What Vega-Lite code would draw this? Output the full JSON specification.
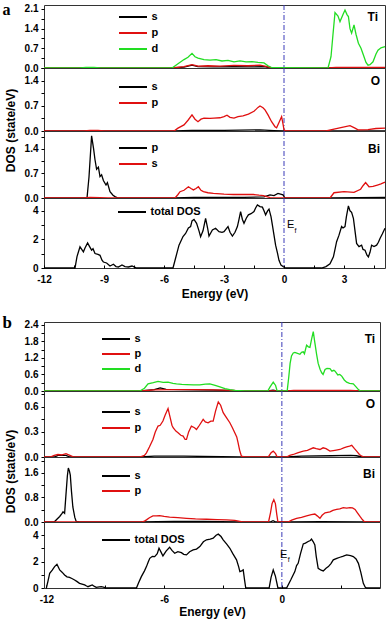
{
"$schema": "https://vega.github.io/schema/vega-lite/v6.json",
"autosize": {"type": "none"},
"padding": {"left": 44, "top": 5, "right": 344, "bottom": 617},
"background": "white",
"config": {
  "view": {"stroke": "#333", "strokeWidth": 1},
  "axis": {"domain": false, "grid": false, "tickColor": "#000", "tickWidth": 1, "tickSize": 3, "labelFont": "Liberation Sans", "labelFontWeight": "bold", "labelFontSize": 10, "labelColor": "#000", "labelOverlap": false, "labelFlush": false, "labelPadding": 3, "titleFont": "Liberation Sans", "titleFontWeight": "bold", "titleFontSize": 12, "titleColor": "#000"},
  "axisX": {"tickSize": -3, "labelPadding": 9},
  "legend": {"orient": "none", "direction": "vertical", "symbolType": "M-4,0H4", "symbolSize": 49, "symbolStrokeWidth": 2, "labelOffset": 13, "labelFontSize": 11, "labelFont": "Liberation Sans", "labelFontWeight": "bold", "labelColor": "#000", "padding": 0},
  "text": {"font": "Liberation Sans", "fontWeight": "bold", "fontSize": 12, "color": "#000"}
},
"datasets": {
"aTi": [
{"o":"s","e":-12,"v":0},{"o":"s","e":-5.6,"v":0},{"o":"s","e":-5.0,"v":0.03},{"o":"s","e":-4.6,"v":0.1},{"o":"s","e":-4.3,"v":0.05},{"o":"s","e":-3.5,"v":0.04},{"o":"s","e":-2.5,"v":0.05},{"o":"s","e":-1.5,"v":0.04},{"o":"s","e":-1.0,"v":0.05},{"o":"s","e":-0.6,"v":0},{"o":"s","e":5.05,"v":0},
{"o":"p","e":-12,"v":0},{"o":"p","e":-5.6,"v":0},{"o":"p","e":-5.0,"v":0.05},{"o":"p","e":-4.6,"v":0.12},{"o":"p","e":-4.3,"v":0.07},{"o":"p","e":-3.8,"v":0.08},{"o":"p","e":-3.2,"v":0.07},{"o":"p","e":-2.5,"v":0.09},{"o":"p","e":-1.8,"v":0.08},{"o":"p","e":-1.2,"v":0.1},{"o":"p","e":-0.9,"v":0.06},{"o":"p","e":-0.6,"v":0},{"o":"p","e":2.2,"v":0},{"o":"p","e":2.6,"v":0.02},{"o":"p","e":5.05,"v":0.02},
{"o":"d","e":-12,"v":0},{"o":"d","e":-10.2,"v":0},{"o":"d","e":-9.9,"v":0.02},{"o":"d","e":-9.5,"v":0.02},{"o":"d","e":-9.2,"v":0},{"o":"d","e":-5.6,"v":0},{"o":"d","e":-5.3,"v":0.15},{"o":"d","e":-5.0,"v":0.3},{"o":"d","e":-4.8,"v":0.38},{"o":"d","e":-4.6,"v":0.52},{"o":"d","e":-4.45,"v":0.4},{"o":"d","e":-4.3,"v":0.35},{"o":"d","e":-4.0,"v":0.3},{"o":"d","e":-3.7,"v":0.28},{"o":"d","e":-3.4,"v":0.3},{"o":"d","e":-3.1,"v":0.25},{"o":"d","e":-2.8,"v":0.27},{"o":"d","e":-2.5,"v":0.22},{"o":"d","e":-2.2,"v":0.25},{"o":"d","e":-1.9,"v":0.22},{"o":"d","e":-1.6,"v":0.23},{"o":"d","e":-1.3,"v":0.2},{"o":"d","e":-1.0,"v":0.18},{"o":"d","e":-0.8,"v":0.08},{"o":"d","e":-0.6,"v":0.01},{"o":"d","e":2.2,"v":0},{"o":"d","e":2.35,"v":0.4},{"o":"d","e":2.45,"v":1.2},{"o":"d","e":2.55,"v":1.97},{"o":"d","e":2.7,"v":1.85},{"o":"d","e":2.8,"v":1.65},{"o":"d","e":2.95,"v":1.9},{"o":"d","e":3.05,"v":2.06},{"o":"d","e":3.15,"v":1.9},{"o":"d","e":3.22,"v":1.83},{"o":"d","e":3.3,"v":1.4},{"o":"d","e":3.38,"v":1.24},{"o":"d","e":3.5,"v":1.53},{"o":"d","e":3.6,"v":1.2},{"o":"d","e":3.72,"v":0.88},{"o":"d","e":3.85,"v":0.7},{"o":"d","e":3.97,"v":0.46},{"o":"d","e":4.1,"v":0.2},{"o":"d","e":4.2,"v":0.1},{"o":"d","e":4.3,"v":0.12},{"o":"d","e":4.45,"v":0.22},{"o":"d","e":4.6,"v":0.5},{"o":"d","e":4.7,"v":0.63},{"o":"d","e":4.85,"v":0.72},{"o":"d","e":5.05,"v":0.76}
],
"aO": [
{"o":"s","e":-12,"v":0},{"o":"s","e":-5.5,"v":0},{"o":"s","e":-4.6,"v":0.02},{"o":"s","e":-3,"v":0.02},{"o":"s","e":-1.2,"v":0.03},{"o":"s","e":-0.5,"v":0.01},{"o":"s","e":0,"v":0},{"o":"s","e":5.05,"v":0},
{"o":"p","e":-12,"v":0},{"o":"p","e":-10.0,"v":0},{"o":"p","e":-9.7,"v":0.02},{"o":"p","e":-9.3,"v":0.02},{"o":"p","e":-9.0,"v":0},{"o":"p","e":-5.5,"v":0},{"o":"p","e":-5.3,"v":0.08},{"o":"p","e":-5.0,"v":0.17},{"o":"p","e":-4.8,"v":0.3},{"o":"p","e":-4.6,"v":0.45},{"o":"p","e":-4.45,"v":0.33},{"o":"p","e":-4.3,"v":0.26},{"o":"p","e":-4.15,"v":0.33},{"o":"p","e":-4.0,"v":0.36},{"o":"p","e":-3.7,"v":0.35},{"o":"p","e":-3.5,"v":0.36},{"o":"p","e":-3.2,"v":0.37},{"o":"p","e":-3.0,"v":0.4},{"o":"p","e":-2.85,"v":0.44},{"o":"p","e":-2.7,"v":0.38},{"o":"p","e":-2.5,"v":0.36},{"o":"p","e":-2.3,"v":0.4},{"o":"p","e":-2.05,"v":0.42},{"o":"p","e":-1.78,"v":0.47},{"o":"p","e":-1.5,"v":0.55},{"o":"p","e":-1.3,"v":0.66},{"o":"p","e":-1.2,"v":0.7},{"o":"p","e":-1.05,"v":0.65},{"o":"p","e":-0.95,"v":0.59},{"o":"p","e":-0.8,"v":0.45},{"o":"p","e":-0.62,"v":0.26},{"o":"p","e":-0.45,"v":0.12},{"o":"p","e":-0.37,"v":0.09},{"o":"p","e":-0.2,"v":0.3},{"o":"p","e":-0.12,"v":0.4},{"o":"p","e":-0.05,"v":0.2},{"o":"p","e":0,"v":0.03},{"o":"p","e":0.1,"v":0},{"o":"p","e":2.1,"v":0},{"o":"p","e":2.5,"v":0.05},{"o":"p","e":2.9,"v":0.1},{"o":"p","e":3.3,"v":0.15},{"o":"p","e":3.55,"v":0.08},{"o":"p","e":3.7,"v":0.03},{"o":"p","e":4.2,"v":0.04},{"o":"p","e":4.6,"v":0.07},{"o":"p","e":5.05,"v":0.08}
],
"aBi": [
{"o":"p","e":-12,"v":0},{"o":"p","e":-9.85,"v":0},{"o":"p","e":-9.75,"v":0.6},{"o":"p","e":-9.62,"v":1.77},{"o":"p","e":-9.52,"v":1.4},{"o":"p","e":-9.45,"v":1.09},{"o":"p","e":-9.37,"v":0.82},{"o":"p","e":-9.28,"v":0.88},{"o":"p","e":-9.2,"v":0.61},{"o":"p","e":-9.12,"v":0.66},{"o":"p","e":-9.03,"v":0.5},{"o":"p","e":-8.9,"v":0.37},{"o":"p","e":-8.83,"v":0.44},{"o":"p","e":-8.7,"v":0.18},{"o":"p","e":-8.55,"v":0.08},{"o":"p","e":-8.45,"v":0.04},{"o":"p","e":-8.3,"v":0},{"o":"p","e":-5.5,"v":0},{"o":"p","e":-4.5,"v":0.02},{"o":"p","e":-2,"v":0.02},{"o":"p","e":-1.0,"v":0.03},{"o":"p","e":-0.7,"v":0.09},{"o":"p","e":-0.5,"v":0.07},{"o":"p","e":-0.3,"v":0.13},{"o":"p","e":-0.05,"v":0.09},{"o":"p","e":0.05,"v":0},{"o":"p","e":2.3,"v":0},{"o":"p","e":5.05,"v":0.02},
{"o":"s","e":-12,"v":0},{"o":"s","e":-10,"v":0},{"o":"s","e":-9.7,"v":0.02},{"o":"s","e":-9.2,"v":0.01},{"o":"s","e":-8.8,"v":0},{"o":"s","e":-5.45,"v":0},{"o":"s","e":-5.3,"v":0.1},{"o":"s","e":-5.2,"v":0.18},{"o":"s","e":-5.0,"v":0.22},{"o":"s","e":-4.78,"v":0.32},{"o":"s","e":-4.65,"v":0.27},{"o":"s","e":-4.53,"v":0.23},{"o":"s","e":-4.4,"v":0.27},{"o":"s","e":-4.28,"v":0.32},{"o":"s","e":-4.15,"v":0.22},{"o":"s","e":-4.03,"v":0.18},{"o":"s","e":-3.8,"v":0.15},{"o":"s","e":-3.53,"v":0.13},{"o":"s","e":-3.0,"v":0.11},{"o":"s","e":-2.53,"v":0.1},{"o":"s","e":-2.0,"v":0.1},{"o":"s","e":-1.53,"v":0.1},{"o":"s","e":-1.25,"v":0.08},{"o":"s","e":-1.03,"v":0.07},{"o":"s","e":-0.7,"v":0.01},{"o":"s","e":2.3,"v":0},{"o":"s","e":2.5,"v":0.15},{"o":"s","e":3.0,"v":0.18},{"o":"s","e":3.5,"v":0.16},{"o":"s","e":3.83,"v":0.25},{"o":"s","e":3.95,"v":0.35},{"o":"s","e":4.08,"v":0.44},{"o":"s","e":4.25,"v":0.32},{"o":"s","e":4.45,"v":0.33},{"o":"s","e":4.67,"v":0.37},{"o":"s","e":4.85,"v":0.4},{"o":"s","e":5.05,"v":0.45}
],
"aTot": [
{"o":"total DOS","e":-12,"v":0},{"o":"total DOS","e":-10.45,"v":0},{"o":"total DOS","e":-10.35,"v":0.8},{"o":"total DOS","e":-10.2,"v":1.48},{"o":"total DOS","e":-10.03,"v":1.13},{"o":"total DOS","e":-9.95,"v":1.4},{"o":"total DOS","e":-9.82,"v":1.76},{"o":"total DOS","e":-9.72,"v":1.5},{"o":"total DOS","e":-9.62,"v":1.25},{"o":"total DOS","e":-9.55,"v":1.35},{"o":"total DOS","e":-9.45,"v":1.01},{"o":"total DOS","e":-9.3,"v":0.95},{"o":"total DOS","e":-9.2,"v":0.89},{"o":"total DOS","e":-9.1,"v":0.55},{"o":"total DOS","e":-9.03,"v":0.42},{"o":"total DOS","e":-8.87,"v":0.35},{"o":"total DOS","e":-8.7,"v":0.14},{"o":"total DOS","e":-8.53,"v":0.26},{"o":"total DOS","e":-8.4,"v":0.1},{"o":"total DOS","e":-8.28,"v":0.07},{"o":"total DOS","e":-8.1,"v":0.21},{"o":"total DOS","e":-7.95,"v":0.1},{"o":"total DOS","e":-7.78,"v":0.07},{"o":"total DOS","e":-7.6,"v":0.14},{"o":"total DOS","e":-7.45,"v":0.05},{"o":"total DOS","e":-7.37,"v":0},{"o":"total DOS","e":-5.55,"v":0},{"o":"total DOS","e":-5.25,"v":1.6},{"o":"total DOS","e":-5.05,"v":2.2},{"o":"total DOS","e":-4.92,"v":2.42},{"o":"total DOS","e":-4.78,"v":2.8},{"o":"total DOS","e":-4.67,"v":2.9},{"o":"total DOS","e":-4.6,"v":3.3},{"o":"total DOS","e":-4.5,"v":3.4},{"o":"total DOS","e":-4.37,"v":3.13},{"o":"total DOS","e":-4.25,"v":2.6},{"o":"total DOS","e":-4.17,"v":2.19},{"o":"total DOS","e":-4.05,"v":2.6},{"o":"total DOS","e":-3.92,"v":3.48},{"o":"total DOS","e":-3.82,"v":2.8},{"o":"total DOS","e":-3.75,"v":2.24},{"o":"total DOS","e":-3.58,"v":2.66},{"o":"total DOS","e":-3.42,"v":2.78},{"o":"total DOS","e":-3.25,"v":2.54},{"o":"total DOS","e":-3.1,"v":2.5},{"o":"total DOS","e":-3.0,"v":2.54},{"o":"total DOS","e":-2.8,"v":2.9},{"o":"total DOS","e":-2.7,"v":2.5},{"o":"total DOS","e":-2.58,"v":2.24},{"o":"total DOS","e":-2.45,"v":2.5},{"o":"total DOS","e":-2.33,"v":2.9},{"o":"total DOS","e":-2.25,"v":3.4},{"o":"total DOS","e":-2.17,"v":3.95},{"o":"total DOS","e":-2.08,"v":3.4},{"o":"total DOS","e":-2.0,"v":3.13},{"o":"total DOS","e":-1.88,"v":3.5},{"o":"total DOS","e":-1.78,"v":3.72},{"o":"total DOS","e":-1.65,"v":3.8},{"o":"total DOS","e":-1.5,"v":3.95},{"o":"total DOS","e":-1.42,"v":4.2},{"o":"total DOS","e":-1.33,"v":4.42},{"o":"total DOS","e":-1.2,"v":4.3},{"o":"total DOS","e":-1.08,"v":4.26},{"o":"total DOS","e":-1.0,"v":4.0},{"o":"total DOS","e":-0.92,"v":3.72},{"o":"total DOS","e":-0.82,"v":4.0},{"o":"total DOS","e":-0.75,"v":4.12},{"o":"total DOS","e":-0.65,"v":3.6},{"o":"total DOS","e":-0.58,"v":3.0},{"o":"total DOS","e":-0.5,"v":2.3},{"o":"total DOS","e":-0.42,"v":1.6},{"o":"total DOS","e":-0.32,"v":1.0},{"o":"total DOS","e":-0.25,"v":0.54},{"o":"total DOS","e":-0.15,"v":0.2},{"o":"total DOS","e":0,"v":0.05},{"o":"total DOS","e":0.1,"v":0},{"o":"total DOS","e":1.88,"v":0},{"o":"total DOS","e":2.1,"v":0.1},{"o":"total DOS","e":2.3,"v":0.3},{"o":"total DOS","e":2.47,"v":0.78},{"o":"total DOS","e":2.55,"v":1.3},{"o":"total DOS","e":2.63,"v":1.84},{"o":"total DOS","e":2.75,"v":2.3},{"o":"total DOS","e":2.88,"v":2.9},{"o":"total DOS","e":2.95,"v":2.8},{"o":"total DOS","e":3.05,"v":2.9},{"o":"total DOS","e":3.12,"v":3.6},{"o":"total DOS","e":3.22,"v":4.35},{"o":"total DOS","e":3.3,"v":4.0},{"o":"total DOS","e":3.38,"v":3.9},{"o":"total DOS","e":3.47,"v":3.48},{"o":"total DOS","e":3.55,"v":2.6},{"o":"total DOS","e":3.63,"v":1.72},{"o":"total DOS","e":3.75,"v":1.5},{"o":"total DOS","e":3.88,"v":1.6},{"o":"total DOS","e":3.95,"v":1.3},{"o":"total DOS","e":4.05,"v":1.25},{"o":"total DOS","e":4.15,"v":0.9},{"o":"total DOS","e":4.22,"v":0.78},{"o":"total DOS","e":4.3,"v":1.1},{"o":"total DOS","e":4.38,"v":1.6},{"o":"total DOS","e":4.5,"v":1.5},{"o":"total DOS","e":4.63,"v":1.6},{"o":"total DOS","e":4.72,"v":1.8},{"o":"total DOS","e":4.8,"v":2.07},{"o":"total DOS","e":4.92,"v":2.4},{"o":"total DOS","e":5.05,"v":2.78}
],
"bTi": [
{"o":"s","e":-12.12,"v":0},{"o":"s","e":-7.2,"v":0},{"o":"s","e":-6.5,"v":0.05},{"o":"s","e":-6.2,"v":0.11},{"o":"s","e":-5.9,"v":0.06},{"o":"s","e":-5.3,"v":0.05},{"o":"s","e":-4.5,"v":0.04},{"o":"s","e":-3.5,"v":0.03},{"o":"s","e":-2.3,"v":0.01},{"o":"s","e":-2.1,"v":0},{"o":"s","e":-0.7,"v":0},{"o":"s","e":-0.45,"v":0.03},{"o":"s","e":-0.25,"v":0},{"o":"s","e":0.3,"v":0},{"o":"s","e":1.5,"v":0.01},{"o":"s","e":3.5,"v":0.01},{"o":"s","e":4.0,"v":0},{"o":"s","e":5.0,"v":0},
{"o":"p","e":-12.12,"v":0},{"o":"p","e":-7.2,"v":0},{"o":"p","e":-6.5,"v":0.04},{"o":"p","e":-5.5,"v":0.05},{"o":"p","e":-4.5,"v":0.05},{"o":"p","e":-3.5,"v":0.04},{"o":"p","e":-2.5,"v":0.02},{"o":"p","e":-2.1,"v":0},{"o":"p","e":0.3,"v":0},{"o":"p","e":0.6,"v":0.02},{"o":"p","e":3.5,"v":0.02},{"o":"p","e":4.0,"v":0},{"o":"p","e":5.0,"v":0},
{"o":"d","e":-12.12,"v":0},{"o":"d","e":-7.24,"v":0},{"o":"d","e":-7.0,"v":0.1},{"o":"d","e":-6.82,"v":0.26},{"o":"d","e":-6.55,"v":0.3},{"o":"d","e":-6.31,"v":0.35},{"o":"d","e":-6.05,"v":0.31},{"o":"d","e":-5.8,"v":0.32},{"o":"d","e":-5.55,"v":0.28},{"o":"d","e":-5.37,"v":0.26},{"o":"d","e":-5.1,"v":0.24},{"o":"d","e":-4.86,"v":0.23},{"o":"d","e":-4.5,"v":0.22},{"o":"d","e":-4.18,"v":0.22},{"o":"d","e":-3.9,"v":0.25},{"o":"d","e":-3.67,"v":0.26},{"o":"d","e":-3.4,"v":0.2},{"o":"d","e":-3.16,"v":0.15},{"o":"d","e":-2.9,"v":0.09},{"o":"d","e":-2.65,"v":0.05},{"o":"d","e":-2.4,"v":0.02},{"o":"d","e":-2.14,"v":0.01},{"o":"d","e":-1.9,"v":0},{"o":"d","e":-0.72,"v":0},{"o":"d","e":-0.6,"v":0.15},{"o":"d","e":-0.44,"v":0.32},{"o":"d","e":-0.32,"v":0.2},{"o":"d","e":-0.24,"v":0},{"o":"d","e":0.27,"v":0},{"o":"d","e":0.35,"v":0.5},{"o":"d","e":0.42,"v":1.0},{"o":"d","e":0.49,"v":1.27},{"o":"d","e":0.58,"v":1.38},{"o":"d","e":0.66,"v":1.4},{"o":"d","e":0.8,"v":1.36},{"o":"d","e":0.92,"v":1.33},{"o":"d","e":1.0,"v":1.4},{"o":"d","e":1.09,"v":1.42},{"o":"d","e":1.15,"v":1.35},{"o":"d","e":1.26,"v":1.66},{"o":"d","e":1.35,"v":1.6},{"o":"d","e":1.43,"v":1.58},{"o":"d","e":1.52,"v":1.9},{"o":"d","e":1.6,"v":2.15},{"o":"d","e":1.68,"v":1.75},{"o":"d","e":1.77,"v":1.33},{"o":"d","e":1.85,"v":1.0},{"o":"d","e":1.95,"v":0.78},{"o":"d","e":2.03,"v":0.66},{"o":"d","e":2.1,"v":0.6},{"o":"d","e":2.2,"v":0.78},{"o":"d","e":2.3,"v":0.82},{"o":"d","e":2.45,"v":0.81},{"o":"d","e":2.55,"v":0.72},{"o":"d","e":2.65,"v":0.75},{"o":"d","e":2.71,"v":0.72},{"o":"d","e":2.85,"v":0.58},{"o":"d","e":2.95,"v":0.6},{"o":"d","e":3.05,"v":0.54},{"o":"d","e":3.18,"v":0.4},{"o":"d","e":3.3,"v":0.32},{"o":"d","e":3.45,"v":0.28},{"o":"d","e":3.64,"v":0.26},{"o":"d","e":3.78,"v":0.15},{"o":"d","e":3.9,"v":0.05},{"o":"d","e":4.0,"v":0},{"o":"d","e":5.0,"v":0}
],
"bO": [
{"o":"s","e":-12.12,"v":0},{"o":"s","e":-11.6,"v":0},{"o":"s","e":-11.4,"v":0.02},{"o":"s","e":-11.0,"v":0.02},{"o":"s","e":-10.8,"v":0},{"o":"s","e":-7.2,"v":0},{"o":"s","e":-6.5,"v":0.01},{"o":"s","e":-5.0,"v":0.01},{"o":"s","e":-2.1,"v":0},{"o":"s","e":0.25,"v":0},{"o":"s","e":1.0,"v":0.01},{"o":"s","e":2.5,"v":0.015},{"o":"s","e":3.5,"v":0.02},{"o":"s","e":3.8,"v":0.015},{"o":"s","e":4.1,"v":0},{"o":"s","e":5.0,"v":0},
{"o":"p","e":-12.12,"v":0},{"o":"p","e":-11.8,"v":0},{"o":"p","e":-11.6,"v":0.02},{"o":"p","e":-11.41,"v":0.03},{"o":"p","e":-11.2,"v":0.025},{"o":"p","e":-11.0,"v":0.04},{"o":"p","e":-10.8,"v":0.02},{"o":"p","e":-10.6,"v":0},{"o":"p","e":-7.24,"v":0},{"o":"p","e":-7.0,"v":0.02},{"o":"p","e":-6.9,"v":0.05},{"o":"p","e":-6.75,"v":0.12},{"o":"p","e":-6.57,"v":0.21},{"o":"p","e":-6.45,"v":0.3},{"o":"p","e":-6.31,"v":0.37},{"o":"p","e":-6.2,"v":0.38},{"o":"p","e":-6.06,"v":0.43},{"o":"p","e":-5.95,"v":0.5},{"o":"p","e":-5.8,"v":0.58},{"o":"p","e":-5.7,"v":0.48},{"o":"p","e":-5.6,"v":0.38},{"o":"p","e":-5.54,"v":0.35},{"o":"p","e":-5.4,"v":0.31},{"o":"p","e":-5.29,"v":0.29},{"o":"p","e":-5.15,"v":0.26},{"o":"p","e":-5.03,"v":0.25},{"o":"p","e":-4.93,"v":0.21},{"o":"p","e":-4.86,"v":0.21},{"o":"p","e":-4.75,"v":0.3},{"o":"p","e":-4.61,"v":0.37},{"o":"p","e":-4.45,"v":0.35},{"o":"p","e":-4.35,"v":0.33},{"o":"p","e":-4.2,"v":0.38},{"o":"p","e":-4.01,"v":0.45},{"o":"p","e":-3.9,"v":0.42},{"o":"p","e":-3.76,"v":0.41},{"o":"p","e":-3.62,"v":0.43},{"o":"p","e":-3.5,"v":0.43},{"o":"p","e":-3.38,"v":0.55},{"o":"p","e":-3.24,"v":0.66},{"o":"p","e":-3.12,"v":0.62},{"o":"p","e":-2.99,"v":0.53},{"o":"p","e":-2.85,"v":0.48},{"o":"p","e":-2.65,"v":0.41},{"o":"p","e":-2.52,"v":0.35},{"o":"p","e":-2.4,"v":0.29},{"o":"p","e":-2.3,"v":0.24},{"o":"p","e":-2.23,"v":0.17},{"o":"p","e":-2.15,"v":0.08},{"o":"p","e":-2.06,"v":0.01},{"o":"p","e":-1.9,"v":0},{"o":"p","e":-0.7,"v":0},{"o":"p","e":-0.55,"v":0.05},{"o":"p","e":-0.44,"v":0.07},{"o":"p","e":-0.32,"v":0.04},{"o":"p","e":-0.24,"v":0},{"o":"p","e":0.24,"v":0},{"o":"p","e":0.4,"v":0.02},{"o":"p","e":0.58,"v":0.03},{"o":"p","e":0.8,"v":0.05},{"o":"p","e":1.09,"v":0.07},{"o":"p","e":1.3,"v":0.08},{"o":"p","e":1.6,"v":0.11},{"o":"p","e":1.75,"v":0.1},{"o":"p","e":1.94,"v":0.09},{"o":"p","e":2.1,"v":0.11},{"o":"p","e":2.25,"v":0.1},{"o":"p","e":2.45,"v":0.07},{"o":"p","e":2.7,"v":0.08},{"o":"p","e":2.96,"v":0.09},{"o":"p","e":3.15,"v":0.11},{"o":"p","e":3.3,"v":0.12},{"o":"p","e":3.45,"v":0.13},{"o":"p","e":3.56,"v":0.14},{"o":"p","e":3.7,"v":0.1},{"o":"p","e":3.81,"v":0.07},{"o":"p","e":3.95,"v":0.03},{"o":"p","e":4.07,"v":0.01},{"o":"p","e":4.2,"v":0},{"o":"p","e":5.0,"v":0}
],
"bBi": [
{"o":"s","e":-12.12,"v":0},{"o":"s","e":-11.6,"v":0},{"o":"s","e":-11.45,"v":0.1},{"o":"s","e":-11.32,"v":0.18},{"o":"s","e":-11.2,"v":0.28},{"o":"s","e":-11.15,"v":0.33},{"o":"s","e":-11.07,"v":0.28},{"o":"s","e":-11.0,"v":0.9},{"o":"s","e":-10.93,"v":1.5},{"o":"s","e":-10.88,"v":1.76},{"o":"s","e":-10.82,"v":1.65},{"o":"s","e":-10.78,"v":1.53},{"o":"s","e":-10.72,"v":1.0},{"o":"s","e":-10.65,"v":0.49},{"o":"s","e":-10.55,"v":0.15},{"o":"s","e":-10.48,"v":0.02},{"o":"s","e":-10.3,"v":0},{"o":"s","e":-7.2,"v":0},{"o":"s","e":-5.5,"v":0.02},{"o":"s","e":-4.0,"v":0.02},{"o":"s","e":-2.2,"v":0},{"o":"s","e":-0.6,"v":0},{"o":"s","e":-0.45,"v":0.04},{"o":"s","e":-0.3,"v":0},{"o":"s","e":0.3,"v":0},{"o":"s","e":2,"v":0.01},{"o":"s","e":4.2,"v":0},{"o":"s","e":5.0,"v":0},
{"o":"p","e":-12.12,"v":0},{"o":"p","e":-7.16,"v":0},{"o":"p","e":-7.0,"v":0.03},{"o":"p","e":-6.9,"v":0.07},{"o":"p","e":-6.75,"v":0.14},{"o":"p","e":-6.57,"v":0.2},{"o":"p","e":-6.4,"v":0.2},{"o":"p","e":-6.23,"v":0.21},{"o":"p","e":-6.0,"v":0.18},{"o":"p","e":-5.72,"v":0.16},{"o":"p","e":-5.3,"v":0.14},{"o":"p","e":-4.86,"v":0.12},{"o":"p","e":-4.4,"v":0.1},{"o":"p","e":-3.84,"v":0.09},{"o":"p","e":-3.3,"v":0.08},{"o":"p","e":-2.82,"v":0.07},{"o":"p","e":-2.4,"v":0.05},{"o":"p","e":-2.14,"v":0.02},{"o":"p","e":-2.0,"v":0},{"o":"p","e":-0.68,"v":0},{"o":"p","e":-0.58,"v":0.3},{"o":"p","e":-0.5,"v":0.6},{"o":"p","e":-0.41,"v":0.73},{"o":"p","e":-0.33,"v":0.6},{"o":"p","e":-0.26,"v":0.25},{"o":"p","e":-0.2,"v":0},{"o":"p","e":0.32,"v":0},{"o":"p","e":0.5,"v":0.06},{"o":"p","e":0.75,"v":0.12},{"o":"p","e":1.0,"v":0.15},{"o":"p","e":1.26,"v":0.2},{"o":"p","e":1.5,"v":0.24},{"o":"p","e":1.68,"v":0.26},{"o":"p","e":1.8,"v":0.2},{"o":"p","e":1.94,"v":0.12},{"o":"p","e":2.05,"v":0.22},{"o":"p","e":2.2,"v":0.3},{"o":"p","e":2.45,"v":0.33},{"o":"p","e":2.6,"v":0.38},{"o":"p","e":2.79,"v":0.41},{"o":"p","e":2.95,"v":0.43},{"o":"p","e":3.13,"v":0.47},{"o":"p","e":3.3,"v":0.45},{"o":"p","e":3.47,"v":0.47},{"o":"p","e":3.6,"v":0.46},{"o":"p","e":3.73,"v":0.41},{"o":"p","e":3.85,"v":0.3},{"o":"p","e":3.98,"v":0.18},{"o":"p","e":4.1,"v":0.08},{"o":"p","e":4.19,"v":0.02},{"o":"p","e":4.3,"v":0},{"o":"p","e":5.0,"v":0}
],
"bTot": [
{"o":"total DOS","e":-12.0,"v":0},{"o":"total DOS","e":-11.92,"v":0.5},{"o":"total DOS","e":-11.83,"v":1.11},{"o":"total DOS","e":-11.7,"v":1.35},{"o":"total DOS","e":-11.58,"v":1.62},{"o":"total DOS","e":-11.46,"v":1.8},{"o":"total DOS","e":-11.38,"v":1.55},{"o":"total DOS","e":-11.32,"v":1.37},{"o":"total DOS","e":-11.2,"v":1.2},{"o":"total DOS","e":-11.07,"v":0.99},{"o":"total DOS","e":-10.95,"v":0.85},{"o":"total DOS","e":-10.82,"v":0.81},{"o":"total DOS","e":-10.7,"v":0.72},{"o":"total DOS","e":-10.56,"v":0.61},{"o":"total DOS","e":-10.45,"v":0.5},{"o":"total DOS","e":-10.31,"v":0.35},{"o":"total DOS","e":-10.18,"v":0.3},{"o":"total DOS","e":-10.05,"v":0.23},{"o":"total DOS","e":-9.95,"v":0.15},{"o":"total DOS","e":-9.88,"v":0.1},{"o":"total DOS","e":-9.75,"v":0.18},{"o":"total DOS","e":-9.66,"v":0.23},{"o":"total DOS","e":-9.55,"v":0.12},{"o":"total DOS","e":-9.46,"v":0.05},{"o":"total DOS","e":-9.3,"v":0.08},{"o":"total DOS","e":-9.2,"v":0.1},{"o":"total DOS","e":-9.05,"v":0.05},{"o":"total DOS","e":-8.95,"v":0},{"o":"total DOS","e":-7.41,"v":0},{"o":"total DOS","e":-7.3,"v":0.4},{"o":"total DOS","e":-7.16,"v":0.86},{"o":"total DOS","e":-7.0,"v":1.3},{"o":"total DOS","e":-6.9,"v":1.62},{"o":"total DOS","e":-6.8,"v":2.0},{"o":"total DOS","e":-6.73,"v":2.25},{"o":"total DOS","e":-6.6,"v":2.4},{"o":"total DOS","e":-6.48,"v":2.38},{"o":"total DOS","e":-6.35,"v":2.6},{"o":"total DOS","e":-6.26,"v":3.01},{"o":"total DOS","e":-6.15,"v":2.7},{"o":"total DOS","e":-6.06,"v":2.43},{"o":"total DOS","e":-5.9,"v":2.8},{"o":"total DOS","e":-5.72,"v":3.09},{"o":"total DOS","e":-5.6,"v":2.85},{"o":"total DOS","e":-5.46,"v":2.63},{"o":"total DOS","e":-5.3,"v":2.75},{"o":"total DOS","e":-5.12,"v":2.68},{"o":"total DOS","e":-5.0,"v":2.55},{"o":"total DOS","e":-4.86,"v":2.51},{"o":"total DOS","e":-4.7,"v":2.75},{"o":"total DOS","e":-4.52,"v":2.89},{"o":"total DOS","e":-4.35,"v":2.95},{"o":"total DOS","e":-4.18,"v":3.14},{"o":"total DOS","e":-4.0,"v":3.5},{"o":"total DOS","e":-3.84,"v":3.65},{"o":"total DOS","e":-3.65,"v":3.7},{"o":"total DOS","e":-3.5,"v":3.77},{"o":"total DOS","e":-3.35,"v":4.0},{"o":"total DOS","e":-3.24,"v":4.08},{"o":"total DOS","e":-3.1,"v":3.9},{"o":"total DOS","e":-2.99,"v":3.65},{"o":"total DOS","e":-2.8,"v":3.3},{"o":"total DOS","e":-2.65,"v":3.01},{"o":"total DOS","e":-2.5,"v":2.6},{"o":"total DOS","e":-2.31,"v":2.13},{"o":"total DOS","e":-2.2,"v":1.6},{"o":"total DOS","e":-2.14,"v":1.24},{"o":"total DOS","e":-2.05,"v":1.3},{"o":"total DOS","e":-1.97,"v":1.37},{"o":"total DOS","e":-1.9,"v":0.6},{"o":"total DOS","e":-1.84,"v":0},{"o":"total DOS","e":-0.65,"v":0},{"o":"total DOS","e":-0.55,"v":0.8},{"o":"total DOS","e":-0.44,"v":1.37},{"o":"total DOS","e":-0.33,"v":0.9},{"o":"total DOS","e":-0.2,"v":0},{"o":"total DOS","e":0.24,"v":0},{"o":"total DOS","e":0.45,"v":0.6},{"o":"total DOS","e":0.66,"v":1.24},{"o":"total DOS","e":0.75,"v":1.7},{"o":"total DOS","e":0.83,"v":1.87},{"o":"total DOS","e":0.95,"v":2.6},{"o":"total DOS","e":1.09,"v":3.34},{"o":"total DOS","e":1.2,"v":3.4},{"o":"total DOS","e":1.34,"v":3.52},{"o":"total DOS","e":1.45,"v":3.6},{"o":"total DOS","e":1.51,"v":3.7},{"o":"total DOS","e":1.6,"v":3.5},{"o":"total DOS","e":1.68,"v":3.27},{"o":"total DOS","e":1.75,"v":2.4},{"o":"total DOS","e":1.85,"v":1.49},{"o":"total DOS","e":2.0,"v":1.35},{"o":"total DOS","e":2.11,"v":1.29},{"o":"total DOS","e":2.25,"v":1.5},{"o":"total DOS","e":2.37,"v":1.62},{"o":"total DOS","e":2.5,"v":1.85},{"o":"total DOS","e":2.62,"v":2.13},{"o":"total DOS","e":2.8,"v":2.25},{"o":"total DOS","e":2.96,"v":2.33},{"o":"total DOS","e":3.1,"v":2.4},{"o":"total DOS","e":3.3,"v":2.51},{"o":"total DOS","e":3.5,"v":2.45},{"o":"total DOS","e":3.64,"v":2.38},{"o":"total DOS","e":3.78,"v":2.2},{"o":"total DOS","e":3.9,"v":1.87},{"o":"total DOS","e":4.02,"v":1.2},{"o":"total DOS","e":4.15,"v":0.35},{"o":"total DOS","e":4.25,"v":0.05},{"o":"total DOS","e":4.32,"v":0},{"o":"total DOS","e":5.0,"v":0}
]
},
"vconcat": [
{
 "width": 341, "height": 63,
 "resolve": {"axis": {"x": "independent", "y": "independent"}},
 "layer": [
  {"data": {"values": [{}]}, "mark": {"type": "rule", "color": "#3a3ab8", "strokeWidth": 1, "strokeDash": [5, 2, 1, 2]}, "encoding": {"x": {"datum": 0, "type": "quantitative", "scale": {"domain": [-12, 5.05], "nice": false}, "axis": null}}},
  {"data": {"name": "aTi"}, "mark": {"type": "line", "strokeWidth": 1.3},
   "encoding": {
    "x": {"field": "e", "type": "quantitative", "scale": {"domain": [-12, 5.05], "nice": false}, "axis": null},
    "y": {"field": "v", "type": "quantitative", "scale": {"domain": [0, 2.24], "nice": false}, "axis": {"orient": "left", "values": [0, 0.35, 0.7, 1.05, 1.4, 1.75, 2.1], "labelExpr": "round(datum.value*100) % 70 == 0 ? format(datum.value, '.1f') : ''", "title": "a", "titleAngle": 0, "titleX": -42, "titleY": 9.5, "titleAlign": "left", "titleBaseline": "alphabetic", "titleFont": "Liberation Serif", "titleFontSize": 16}},
    "color": {"field": "o", "type": "nominal", "scale": {"domain": ["s", "p", "d"], "range": ["#000000", "#e01010", "#22dd22"]}, "legend": {"title": null, "legendX": 83.5, "legendY": 6.5, "rowPadding": 4}}
   }},
  {"data": {"values": [{}]}, "mark": {"type": "text", "align": "right", "baseline": "middle"}, "encoding": {"x": {"datum": 4.7, "type": "quantitative", "scale": {"domain": [-12, 5.05], "nice": false}, "axis": null}, "y": {"datum": 1.83, "type": "quantitative", "scale": {"domain": [0, 2.24], "nice": false}, "axis": null}, "text": {"value": "Ti"}}}
 ]
},
{
 "width": 341, "height": 63,
 "resolve": {"axis": {"x": "independent", "y": "independent"}},
 "layer": [
  {"data": {"values": [{}]}, "mark": {"type": "rule", "color": "#3a3ab8", "strokeWidth": 1, "strokeDash": [5, 2, 1, 2]}, "encoding": {"x": {"datum": 0, "type": "quantitative", "scale": {"domain": [-12, 5.05], "nice": false}, "axis": null}}},
  {"data": {"name": "aO"}, "mark": {"type": "line", "strokeWidth": 1.3},
   "encoding": {
    "x": {"field": "e", "type": "quantitative", "scale": {"domain": [-12, 5.05], "nice": false}, "axis": null},
    "y": {"field": "v", "type": "quantitative", "scale": {"domain": [0, 1.76], "nice": false}, "axis": {"orient": "left", "values": [0, 0.35, 0.7, 1.05, 1.4, 1.75], "labelExpr": "round(datum.value*100) % 70 == 0 ? format(datum.value, '.1f') : ''", "title": "DOS (state/eV)", "titleAngle": -90, "titleX": -34, "titleY": 62, "titleAlign": "center", "titleBaseline": "middle"}},
    "color": {"field": "o", "type": "nominal", "scale": {"domain": ["s", "p"], "range": ["#000000", "#e01010"]}, "legend": {"title": null, "legendX": 83.5, "legendY": 13.5, "rowPadding": 4}}
   }},
  {"data": {"values": [{}]}, "mark": {"type": "text", "align": "right", "baseline": "middle"}, "encoding": {"x": {"datum": 4.8, "type": "quantitative", "scale": {"domain": [-12, 5.05], "nice": false}, "axis": null}, "y": {"datum": 1.41, "type": "quantitative", "scale": {"domain": [0, 1.76], "nice": false}, "axis": null}, "text": {"value": "O"}}}
 ]
},
{
 "width": 341, "height": 67,
 "resolve": {"axis": {"x": "independent", "y": "independent"}},
 "layer": [
  {"data": {"values": [{}]}, "mark": {"type": "rule", "color": "#3a3ab8", "strokeWidth": 1, "strokeDash": [5, 2, 1, 2]}, "encoding": {"x": {"datum": 0, "type": "quantitative", "scale": {"domain": [-12, 5.05], "nice": false}, "axis": null}}},
  {"data": {"name": "aBi"}, "mark": {"type": "line", "strokeWidth": 1.3},
   "encoding": {
    "x": {"field": "e", "type": "quantitative", "scale": {"domain": [-12, 5.05], "nice": false}, "axis": null},
    "y": {"field": "v", "type": "quantitative", "scale": {"domain": [0, 1.91], "nice": false}, "axis": {"orient": "left", "values": [0, 0.35, 0.7, 1.05, 1.4, 1.75], "labelExpr": "round(datum.value*100) % 70 == 0 ? format(datum.value, '.1f') : ''", "title": null}},
    "color": {"field": "o", "type": "nominal", "scale": {"domain": ["p", "s"], "range": ["#000000", "#e01010"]}, "legend": {"title": null, "legendX": 83.5, "legendY": 11.5, "rowPadding": 4}}
   }},
  {"data": {"values": [{}]}, "mark": {"type": "text", "align": "right", "baseline": "middle"}, "encoding": {"x": {"datum": 4.8, "type": "quantitative", "scale": {"domain": [-12, 5.05], "nice": false}, "axis": null}, "y": {"datum": 1.4, "type": "quantitative", "scale": {"domain": [0, 1.91], "nice": false}, "axis": null}, "text": {"value": "Bi"}}}
 ]
},
{
 "width": 341, "height": 70,
 "resolve": {"axis": {"x": "independent", "y": "independent"}},
 "layer": [
  {"data": {"values": [{}]}, "mark": {"type": "rule", "color": "#3a3ab8", "strokeWidth": 1, "strokeDash": [5, 2, 1, 2]}, "encoding": {"x": {"datum": 0, "type": "quantitative", "scale": {"domain": [-12, 5.05], "nice": false}, "axis": null}}},
  {"data": {"name": "aTot"}, "mark": {"type": "line", "strokeWidth": 1.3},
   "encoding": {
    "x": {"field": "e", "type": "quantitative", "scale": {"domain": [-12, 5.05], "nice": false}, "axis": {"orient": "bottom", "values": [-12, -10.5, -9, -7.5, -6, -4.5, -3, -1.5, 0, 1.5, 3, 4.5], "labelExpr": "datum.value % 3 == 0 ? '' + datum.value : ''", "title": "Energy (eV)", "titlePadding": 4}},
    "y": {"field": "v", "type": "quantitative", "scale": {"domain": [0, 4.9], "nice": false}, "axis": {"orient": "left", "values": [0, 1, 2, 3, 4], "labelExpr": "datum.value % 2 == 0 ? '' + datum.value : ''", "title": null}},
    "color": {"field": "o", "type": "nominal", "scale": {"domain": ["total DOS"], "range": ["#000000"]}, "legend": {"title": null, "legendX": 82.5, "legendY": 8.5}}
   }},
  {"data": {"values": [{}]}, "mark": {"type": "text", "align": "left", "baseline": "middle", "fontWeight": "normal", "fontSize": 11}, "encoding": {"x": {"datum": 0.15, "type": "quantitative", "scale": {"domain": [-12, 5.05], "nice": false}, "axis": null}, "y": {"datum": 3.0, "type": "quantitative", "scale": {"domain": [0, 4.9], "nice": false}, "axis": null}, "text": {"value": "E"}}},
  {"data": {"values": [{}]}, "mark": {"type": "text", "align": "left", "baseline": "middle", "fontWeight": "normal", "fontSize": 7}, "encoding": {"x": {"datum": 0.53, "type": "quantitative", "scale": {"domain": [-12, 5.05], "nice": false}, "axis": null}, "y": {"datum": 2.6, "type": "quantitative", "scale": {"domain": [0, 4.9], "nice": false}, "axis": null}, "text": {"value": "f"}}}
 ]
},
{
 "width": 341, "height": 54,
 "data": {"values": [{}]},
 "mark": {"type": "text"},
 "encoding": {"text": {"value": ""}},
 "view": {"stroke": null}
},
{
 "width": 336, "height": 69,
 "resolve": {"axis": {"x": "independent", "y": "independent"}},
 "layer": [
  {"data": {"values": [{}]}, "mark": {"type": "rule", "color": "#3a3ab8", "strokeWidth": 1, "strokeDash": [5, 2, 1, 2]}, "encoding": {"x": {"datum": 0, "type": "quantitative", "scale": {"domain": [-12.12, 5.0], "nice": false}, "axis": null}}},
  {"data": {"name": "bTi"}, "mark": {"type": "line", "strokeWidth": 1.3},
   "encoding": {
    "x": {"field": "e", "type": "quantitative", "scale": {"domain": [-12.12, 5.0], "nice": false}, "axis": null},
    "y": {"field": "v", "type": "quantitative", "scale": {"domain": [0, 2.5], "nice": false}, "axis": {"orient": "left", "values": [0, 0.3, 0.6, 0.9, 1.2, 1.5, 1.8, 2.1, 2.4], "labelExpr": "round(datum.value*100) % 60 == 0 ? format(datum.value, '.1f') : ''", "title": "b", "titleAngle": 0, "titleX": -42, "titleY": 5, "titleAlign": "left", "titleBaseline": "alphabetic", "titleFont": "Liberation Serif", "titleFontSize": 17}},
    "color": {"field": "o", "type": "nominal", "scale": {"domain": ["s", "p", "d"], "range": ["#000000", "#e01010", "#22dd22"]}, "legend": {"title": null, "legendX": 66.5, "legendY": 11.5, "rowPadding": 3}}
   }},
  {"data": {"values": [{}]}, "mark": {"type": "text", "align": "right", "baseline": "middle"}, "encoding": {"x": {"datum": 4.75, "type": "quantitative", "scale": {"domain": [-12.12, 5.0], "nice": false}, "axis": null}, "y": {"datum": 1.87, "type": "quantitative", "scale": {"domain": [0, 2.5], "nice": false}, "axis": null}, "text": {"value": "Ti"}}}
 ]
},
{
 "width": 336, "height": 66,
 "resolve": {"axis": {"x": "independent", "y": "independent"}},
 "layer": [
  {"data": {"values": [{}]}, "mark": {"type": "rule", "color": "#3a3ab8", "strokeWidth": 1, "strokeDash": [5, 2, 1, 2]}, "encoding": {"x": {"datum": 0, "type": "quantitative", "scale": {"domain": [-12.12, 5.0], "nice": false}, "axis": null}}},
  {"data": {"name": "bO"}, "mark": {"type": "line", "strokeWidth": 1.3},
   "encoding": {
    "x": {"field": "e", "type": "quantitative", "scale": {"domain": [-12.12, 5.0], "nice": false}, "axis": null},
    "y": {"field": "v", "type": "quantitative", "scale": {"domain": [0, 0.79], "nice": false}, "axis": {"orient": "left", "values": [0, 0.15, 0.3, 0.45, 0.6, 0.75], "labelExpr": "round(datum.value*100) % 30 == 0 ? format(datum.value, '.1f') : ''", "title": "DOS (state/eV)", "titleAngle": -90, "titleX": -34, "titleY": 80, "titleAlign": "center", "titleBaseline": "middle"}},
    "color": {"field": "o", "type": "nominal", "scale": {"domain": ["s", "p"], "range": ["#000000", "#e01010"]}, "legend": {"title": null, "legendX": 66.5, "legendY": 15.5, "rowPadding": 4}}
   }},
  {"data": {"values": [{}]}, "mark": {"type": "text", "align": "right", "baseline": "middle"}, "encoding": {"x": {"datum": 4.75, "type": "quantitative", "scale": {"domain": [-12.12, 5.0], "nice": false}, "axis": null}, "y": {"datum": 0.63, "type": "quantitative", "scale": {"domain": [0, 0.79], "nice": false}, "axis": null}, "text": {"value": "O"}}}
 ]
},
{
 "width": 336, "height": 65,
 "resolve": {"axis": {"x": "independent", "y": "independent"}},
 "layer": [
  {"data": {"values": [{}]}, "mark": {"type": "rule", "color": "#3a3ab8", "strokeWidth": 1, "strokeDash": [5, 2, 1, 2]}, "encoding": {"x": {"datum": 0, "type": "quantitative", "scale": {"domain": [-12.12, 5.0], "nice": false}, "axis": null}}},
  {"data": {"name": "bBi"}, "mark": {"type": "line", "strokeWidth": 1.3},
   "encoding": {
    "x": {"field": "e", "type": "quantitative", "scale": {"domain": [-12.12, 5.0], "nice": false}, "axis": null},
    "y": {"field": "v", "type": "quantitative", "scale": {"domain": [0, 2.12], "nice": false}, "axis": {"orient": "left", "values": [0, 0.4, 0.8, 1.2, 1.6, 2.0], "labelExpr": "round(datum.value*100) % 80 == 0 ? format(datum.value, '.1f') : ''", "title": null}},
    "color": {"field": "o", "type": "nominal", "scale": {"domain": ["s", "p"], "range": ["#000000", "#e01010"]}, "legend": {"title": null, "legendX": 66.5, "legendY": 13.5, "rowPadding": 3}}
   }},
  {"data": {"values": [{}]}, "mark": {"type": "text", "align": "right", "baseline": "middle"}, "encoding": {"x": {"datum": 4.75, "type": "quantitative", "scale": {"domain": [-12.12, 5.0], "nice": false}, "axis": null}, "y": {"datum": 1.58, "type": "quantitative", "scale": {"domain": [0, 2.12], "nice": false}, "axis": null}, "text": {"value": "Bi"}}}
 ]
},
{
 "width": 336, "height": 66,
 "resolve": {"axis": {"x": "independent", "y": "independent"}},
 "layer": [
  {"data": {"values": [{}]}, "mark": {"type": "rule", "color": "#3a3ab8", "strokeWidth": 1, "strokeDash": [5, 2, 1, 2]}, "encoding": {"x": {"datum": 0, "type": "quantitative", "scale": {"domain": [-12.12, 5.0], "nice": false}, "axis": null}}},
  {"data": {"name": "bTot"}, "mark": {"type": "line", "strokeWidth": 1.3},
   "encoding": {
    "x": {"field": "e", "type": "quantitative", "scale": {"domain": [-12.12, 5.0], "nice": false}, "axis": {"orient": "bottom", "values": [-12, -9, -6, -3, 0, 3], "labelExpr": "datum.value % 6 == 0 ? '' + datum.value : ''", "title": "Energy (eV)", "titlePadding": 2}},
    "y": {"field": "v", "type": "quantitative", "scale": {"domain": [0, 5.0], "nice": false}, "axis": {"orient": "left", "values": [0, 1, 2, 3, 4], "labelExpr": "datum.value % 2 == 0 ? '' + datum.value : ''", "title": null}},
    "color": {"field": "o", "type": "nominal", "scale": {"domain": ["total DOS"], "range": ["#000000"]}, "legend": {"title": null, "legendX": 66.5, "legendY": 12.5}}
   }},
  {"data": {"values": [{}]}, "mark": {"type": "text", "align": "left", "baseline": "middle", "fontWeight": "normal", "fontSize": 11}, "encoding": {"x": {"datum": -0.09, "type": "quantitative", "scale": {"domain": [-12.12, 5.0], "nice": false}, "axis": null}, "y": {"datum": 2.49, "type": "quantitative", "scale": {"domain": [0, 5.0], "nice": false}, "axis": null}, "text": {"value": "E"}}},
  {"data": {"values": [{}]}, "mark": {"type": "text", "align": "left", "baseline": "middle", "fontWeight": "normal", "fontSize": 7}, "encoding": {"x": {"datum": 0.3, "type": "quantitative", "scale": {"domain": [-12.12, 5.0], "nice": false}, "axis": null}, "y": {"datum": 2.12, "type": "quantitative", "scale": {"domain": [0, 5.0], "nice": false}, "axis": null}, "text": {"value": "f"}}}
 ]
}
],
"spacing": 0,
"bounds": "flush",
"resolve": {"scale": {"color": "independent"}, "legend": {"color": "independent"}}
}
